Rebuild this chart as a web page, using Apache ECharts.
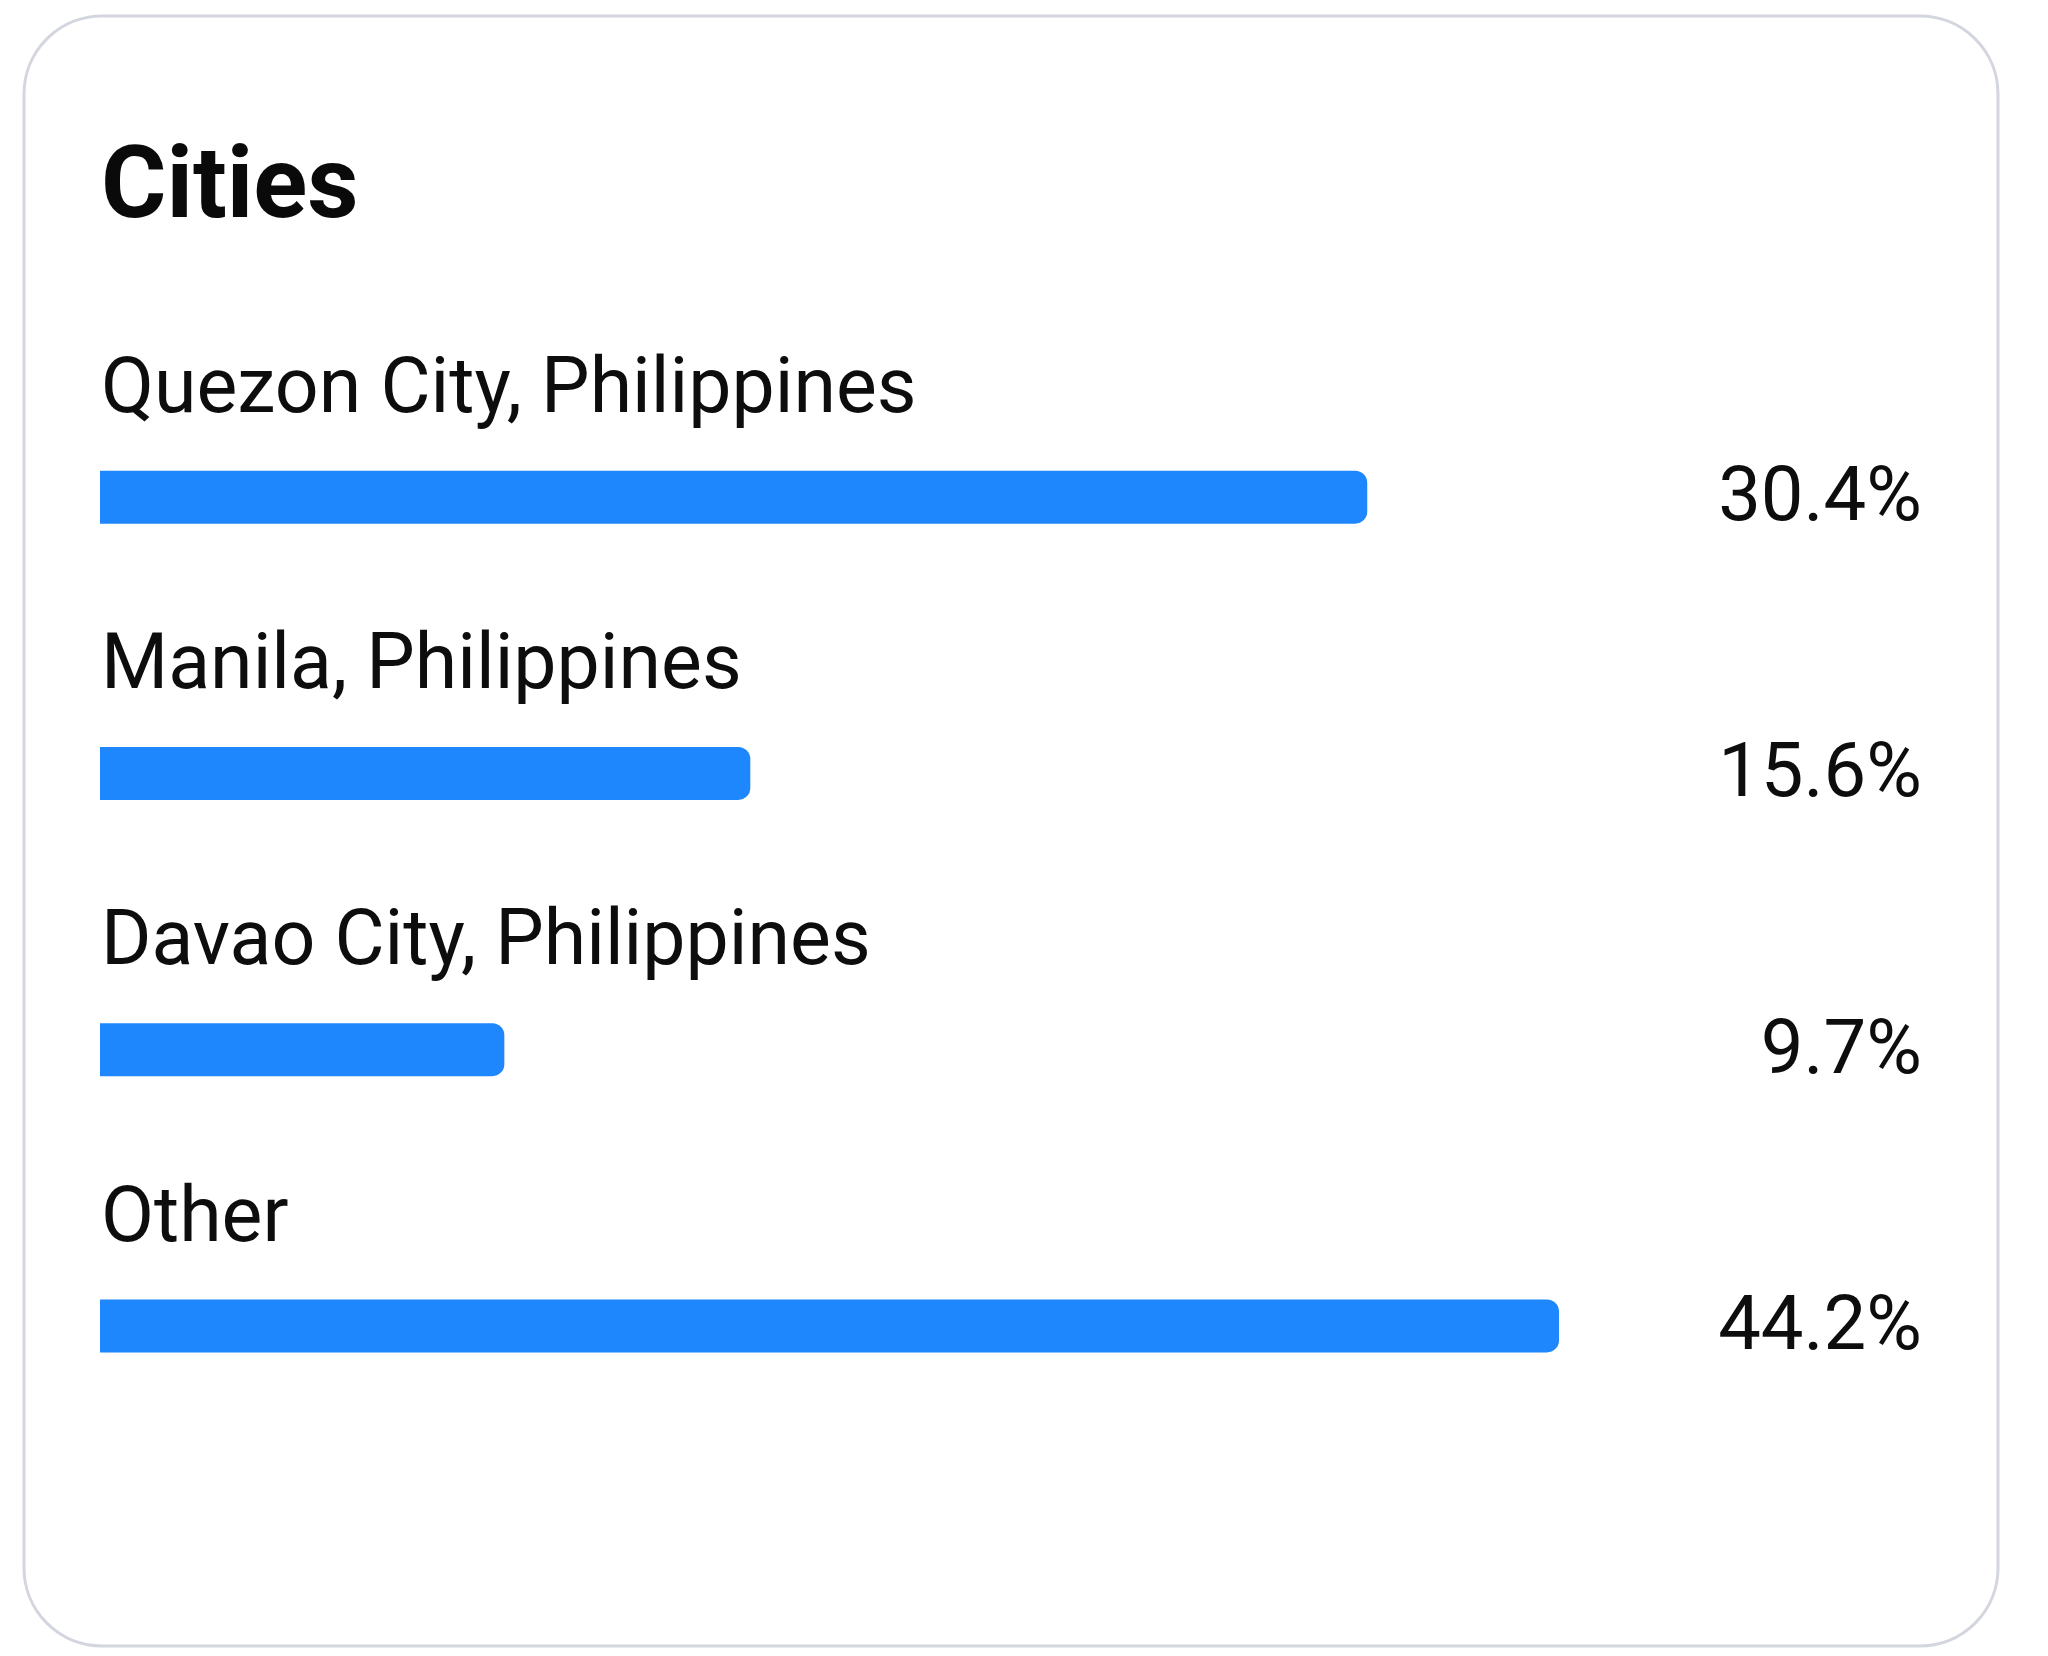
<!DOCTYPE html>
<html>
<head>
<meta charset="utf-8">
<script src="https://cdn.jsdelivr.net/npm/echarts@6/dist/echarts.min.js"></script>
<style>
  html, body { margin: 0; padding: 0; background: #ffffff; }
  #chart { width: 2048px; height: 1656px; }
</style>
</head>
<body>
<div id="chart"></div>
<script>
const titleText = 'Cities';
const cities = ['Quezon City, Philippines', 'Manila, Philippines', 'Davao City, Philippines', 'Other'];
const shares = [30.4, 15.6, 9.7, 44.2];
const axisMax = 35;

const chart = echarts.init(document.getElementById('chart'), null, { renderer: 'canvas' });
const FONT = 'Roboto, "Noto Sans", sans-serif';

chart.setOption({
  backgroundColor: '#ffffff',
  animation: false,
  title: {
    text: titleText,
    left: 101,
    top: 142,
    padding: 0,
    textStyle: { fontFamily: FONT, fontSize: 100, fontWeight: 'bold', color: '#0a0a0a', lineHeight: 100 }
  },
  graphic: [{
    type: 'rect',
    z: -10,
    silent: true,
    shape: { x: 24, y: 16, width: 1974, height: 1630, r: 78 },
    style: { fill: '#ffffff', stroke: '#d3d6de', lineWidth: 3 }
  }],
  grid: { left: 100, right: 489, top: 359, bottom: 192, containLabel: false },
  xAxis: {
    type: 'value', min: 0, max: axisMax,
    show: false
  },
  yAxis: [{
    type: 'category',
    data: cities,
    inverse: true,
    show: false
  }, {
    type: 'category',
    data: cities,
    inverse: true,
    position: 'right',
    axisLine: { show: false },
    axisTick: { show: false },
    splitLine: { show: false },
    axisLabel: {
      margin: 363,
      align: 'right',
      verticalAlign: 'middle',
      fontFamily: FONT,
      fontSize: 76,
      color: '#0d0d0d',
      formatter: function (v, i) { return '{p|' + shares[i].toFixed(1) + '%}'; },
      rich: {
        p: { fontFamily: FONT, fontSize: 76, color: '#0d0d0d', padding: [8, 0, 0, 0] }
      }
    }
  }],
  series: [{
    type: 'bar',
    yAxisIndex: 0,
    data: shares,
    barWidth: 53,
    clip: true,
    itemStyle: { color: '#1f87fd', borderRadius: [0, 12, 12, 0] },
    label: {
      show: true,
      position: [1, -78],
      align: 'left',
      verticalAlign: 'middle',
      formatter: '{b}',
      fontFamily: FONT,
      fontSize: 77,
      color: '#0d0d0d'
    }
  }]
});
</script>
</body>
</html>
